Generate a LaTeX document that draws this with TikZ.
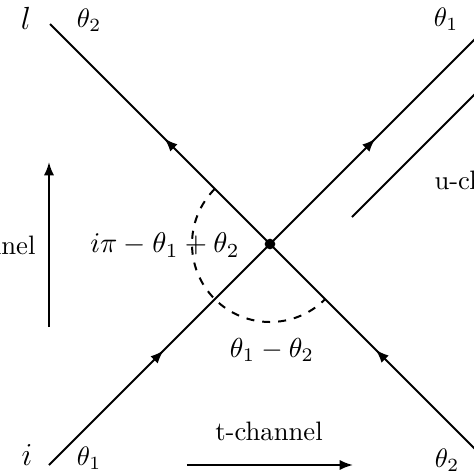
\documentclass[tikz,border=0pt]{standalone}
\usetikzlibrary{arrows.meta,decorations.markings,calc}
\begin{document}
\begin{tikzpicture}[x=0.375pt,y=-0.375pt,
  ln/.style={line width=0.75pt},
  tip/.style={Latex[length=5pt,width=3.8pt]},
  midarrows/.style={ln,postaction={decorate},decoration={markings,
    mark=at position #1 with {\arrow{Latex[length=5pt,width=3.8pt]}},
    mark=at position 0.74 with {\arrow{Latex[length=5pt,width=3.8pt]}}}},
  chan/.style={ln,-{Latex[length=5pt,width=3.8pt]}},
  lbl/.style={inner sep=0pt}]
\useasboundingbox (0,0) rectangle (474,474);
\clip (0,0) rectangle (474,474);
\coordinate (A) at (49,465);
\coordinate (B) at (490,24);
\coordinate (C) at (490,464);
\coordinate (D) at (50,24);
\node[circle,fill,inner sep=0pt,minimum size=4pt] (o) at (270,244) {};
\draw[midarrows=0.26] (A) -- (B);
\draw[midarrows=0.26] (C) -- (D);
\draw[ln,dashed] ($(o)+(225:78)$) arc[start angle=225,end angle=45,radius=78];
% channel arrows
\coordinate (s0) at (49,327); \coordinate (s1) at (49,162);
\coordinate (t0) at (187,465); \coordinate (t1) at (353,465);
\coordinate (u0) at (352,217); \coordinate (u1) at (480,89);
\draw[chan] (s0) -- (s1);
\draw[chan] (t0) -- (t1);
\draw[ln] (u0) -- (u1);
% labels
\node[lbl] (l) at (26,18) {\large $l$};
\node[lbl] (i) at (27,455) {\large $i$};
\node[lbl] (th2a) at (89,20) {$\theta_2$};
\node[lbl] (th1a) at (446,19) {$\theta_1$};
\node[lbl] (th1b) at (89,458) {$\theta_1$};
\node[lbl] (th2b) at (447,460) {$\theta_2$};
\node[lbl,scale=1.07] (ang1) at (165,245) {$i\pi-\theta_1+\theta_2$};
\node[lbl,scale=1.03] (ang2) at (272,350) {$\theta_1-\theta_2$};
\node[lbl] (tch) at (269,431) {t-channel};
\node[lbl,anchor=base east] (sch) at (36,254) {s-channel};
\node[lbl,anchor=base west] (uch) at (434,189) {u-channel};
\end{tikzpicture}
\end{document}
